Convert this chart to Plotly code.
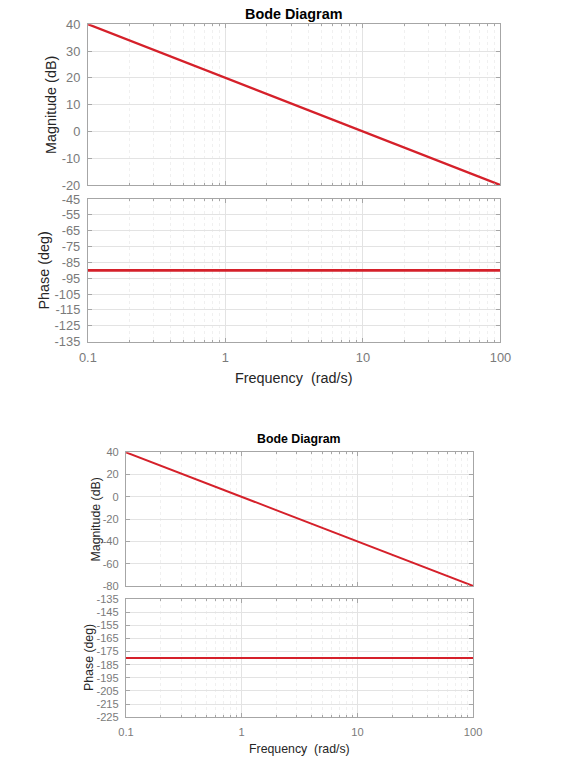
import plotly.graph_objects as go

# Bode data
freq = [0.1, 1, 10, 100]            # rad/s
mag_top = [40, 20, 0, -20]          # dB
phase_top = [-90, -90, -90, -90]    # deg
mag_bottom = [40, 0, -40, -80]      # dB
phase_bottom = [-180, -180, -180, -180]

freq_ticks = [0.1, 1, 10, 100]
freq_ticktext = ["0.1", "1", "10", "100"]
minor_freq = [m * d for d in (0.1, 1, 10) for m in range(2, 10)]
mag_top_ticks = [-20, -10, 0, 10, 20, 30, 40]
phase_top_ticks = [-135, -125, -115, -105, -95, -85, -75, -65, -55, -45]
mag_bottom_ticks = [-80, -60, -40, -20, 0, 20, 40]
phase_bottom_ticks = [-225, -215, -205, -195, -185, -175, -165, -155, -145, -135]

W, H = 563, 776
FONT = "Liberation Sans, Arial, Helvetica, sans-serif"
RED = "#d5202a"
TICK_GREY = "#7a7a7a"
AXIS_GREY = "#a6a6a6"
GRID = "#e3e3e3"
MINOR_GRID = "#f0f0f0"

# the snapshot shows the page with a small border and shrunk a bit,
# so reference pixel positions are mapped back through that
OFF = 7.8
SX, SY = 563 / 579, 776 / 792


def px(x):
    return (x - OFF) / SX / W


def py(y):
    return 1 - (y - OFF) / SY / H


def fs(size):
    return size / SX


fig = go.Figure()

fig.add_trace(go.Scatter(x=freq, y=mag_top, mode="lines", line=dict(color=RED, width=2.3),
                         xaxis="x", yaxis="y", showlegend=False))
fig.add_trace(go.Scatter(x=freq, y=phase_top, mode="lines", line=dict(color=RED, width=2.7),
                         xaxis="x2", yaxis="y2", showlegend=False))
fig.add_trace(go.Scatter(x=freq, y=mag_bottom, mode="lines", line=dict(color=RED, width=1.9),
                         xaxis="x3", yaxis="y3", showlegend=False))
fig.add_trace(go.Scatter(x=freq, y=phase_bottom, mode="lines", line=dict(color=RED, width=2.1),
                         xaxis="x4", yaxis="y4", showlegend=False))


def xaxis(domain, anchor, labels, size):
    return dict(
        type="log", range=[-1, 2], domain=domain, anchor=anchor,
        tickvals=freq_ticks, ticktext=freq_ticktext, showticklabels=labels,
        ticks="inside", ticklen=4, tickcolor=AXIS_GREY, mirror="ticks",
        showline=True, linecolor=AXIS_GREY, linewidth=1, ticklabelstandoff=4,
        showgrid=True, gridcolor=GRID, gridwidth=1, zeroline=False,
        tickfont=dict(family=FONT, size=fs(size), color=TICK_GREY),
        minor=dict(tickvals=minor_freq, ticks="inside", ticklen=2, tickcolor=AXIS_GREY,
                   showgrid=True, gridcolor=MINOR_GRID, griddash="dot"),
    )


def yaxis(domain, anchor, rng, ticks, size):
    return dict(
        range=rng, domain=domain, anchor=anchor,
        tickvals=ticks, ticktext=[str(t) for t in ticks],
        ticks="inside", ticklen=4, tickcolor=AXIS_GREY, mirror="ticks",
        showline=True, linecolor=AXIS_GREY, linewidth=1, ticklabelstandoff=4,
        showgrid=True, gridcolor=GRID, zeroline=False,
        tickfont=dict(family=FONT, size=fs(size), color=TICK_GREY),
    )


# axes placed by pixel positions of the reference
top_x = [px(87.3), px(503.3)]
bot_x = [px(125.7), px(475.7)]

fig.update_layout(
    width=W, height=H, autosize=False,
    margin=dict(l=0, r=0, t=0, b=0),
    paper_bgcolor="white", plot_bgcolor="white",
    xaxis=xaxis(top_x, "y", False, 12.5),
    yaxis=yaxis([py(185), py(24)], "x", [-20, 40], mag_top_ticks, 12.5),
    xaxis2=xaxis(top_x, "y2", True, 12.5),
    yaxis2=yaxis([py(341.5), py(199)], "x2", [-135, -45], phase_top_ticks, 12.5),
    xaxis3=xaxis(bot_x, "y3", False, 10.8),
    yaxis3=yaxis([py(586), py(452.3)], "x3", [-80, 40], mag_bottom_ticks, 10.8),
    xaxis4=xaxis(bot_x, "y4", True, 10.8),
    yaxis4=yaxis([py(717.3), py(599)], "x4", [-225, -135], phase_bottom_ticks, 10.8),
)


def label(text, x, y, size, angle=0, bold=False, color="#262626"):
    fig.add_annotation(
        text=f"<b>{text}</b>" if bold else text, x=px(x), y=py(y),
        xref="paper", yref="paper", xanchor="center", yanchor="middle",
        showarrow=False, textangle=angle,
        font=dict(family=FONT, size=fs(size), color=color),
    )


# top chart texts (title kept just inside the top edge)
label("Bode Diagram", 295, 13.5, 14, bold=True, color="#000000")
label("Magnitude (dB)", 49.5, 104.5, 14, angle=-90)
label("Phase (deg)", 43.5, 270, 14, angle=-90)
label("Frequency  (rad/s)", 294.5, 378, 14)

# bottom chart texts
label("Bode Diagram", 300, 439, 12, bold=True, color="#000000")
label("Magnitude (dB)", 95, 519, 12, angle=-90)
label("Phase (deg)", 88.5, 658, 12, angle=-90)
label("Frequency  (rad/s)", 300.5, 749, 12)

# drop the default body margin so the figure sits at the page corner
fig.write_html("out.html", config={"displayModeBar": False},
               post_script="document.body.style.margin='0';")
